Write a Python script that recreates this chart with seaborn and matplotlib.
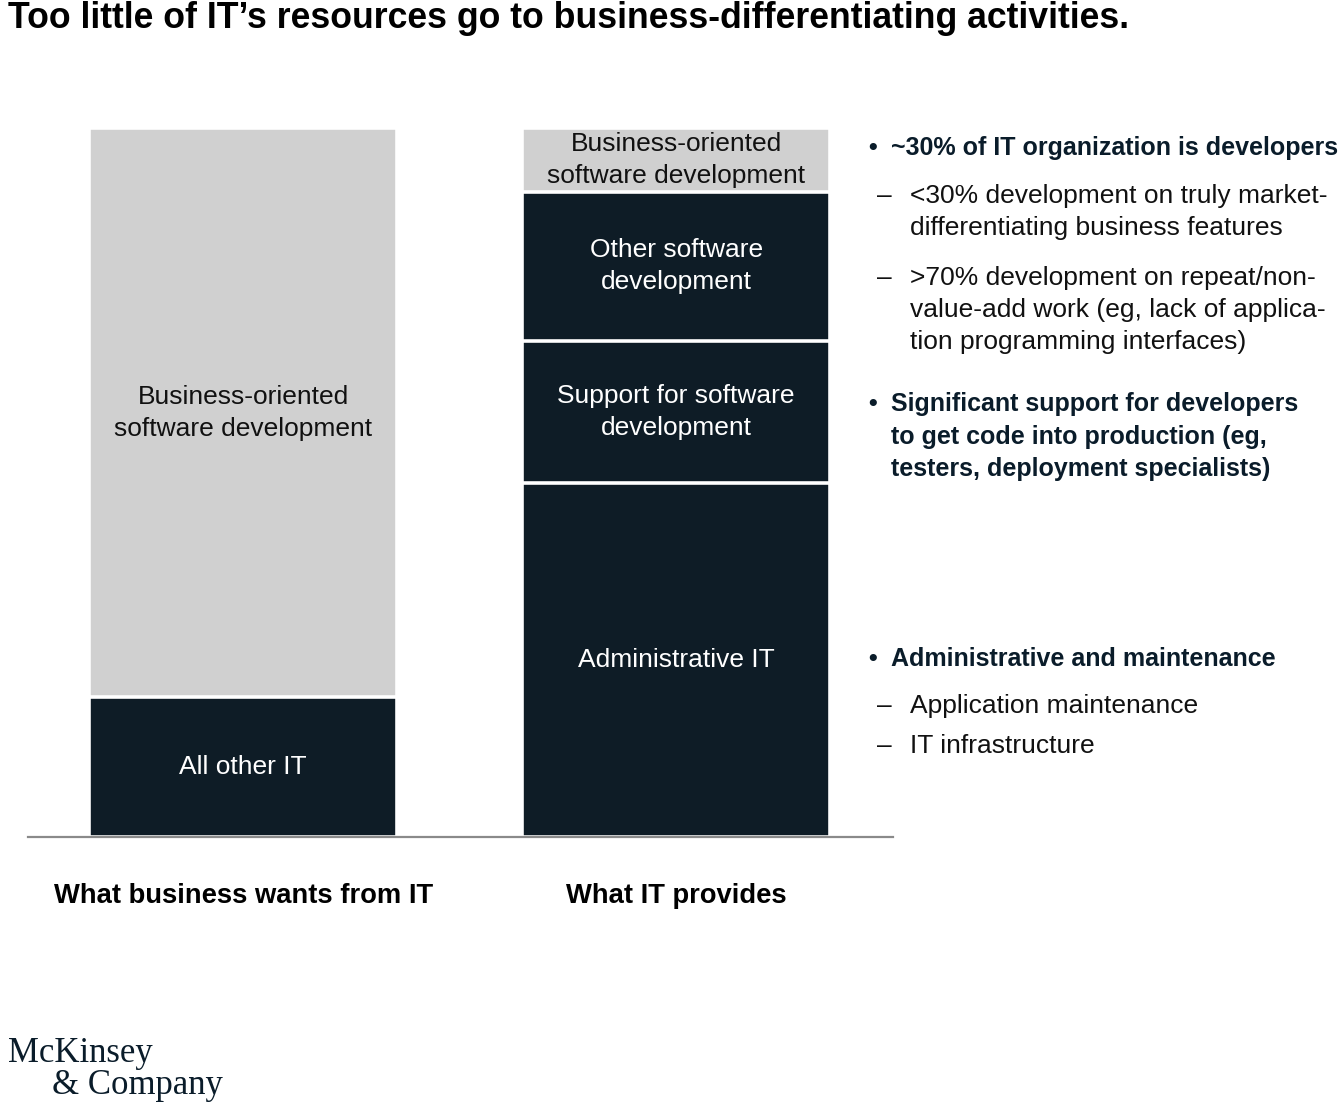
import numpy as np
import pandas as pd
import seaborn as sns
import matplotlib.pyplot as plt

# data (share of IT resources, %)
groups = ["What business wants from IT", "What IT provides"]
left_labels = ["All other IT", "Business-oriented\nsoftware development"]
left_values = [19.7, 80.3]
right_labels = ["Administrative IT", "Support for software\ndevelopment",
                "Other software\ndevelopment", "Business-oriented\nsoftware development"]
right_values = [50, 20, 21, 9]

bold_notes = ["~30% of IT organization is developers",
              "Significant support for developers\nto get code into production (eg,\ntesters, deployment specialists)",
              "Administrative and maintenance"]
dev_subnotes = ["<30% development on truly market-\ndifferentiating business features",
                ">70% development on repeat/non-\nvalue-add work (eg, lack of applica-\ntion programming interfaces)"]
admin_subnotes = ["Application maintenance", "IT infrastructure"]

NAVY = "#0a1c2a"
GRAY = "#d0d0d0"

sns.set_style("white")
plt.rcParams['font.family'] = ['Liberation Sans', 'DejaVu Sans']

W, H = 1344, 1111
fig = plt.figure(figsize=(W / 100, H / 100), dpi=100)
ax = fig.add_axes([28 / W, 1 - 837 / H, (893 - 28) / W, (837 - 128) / H])

# stacked bars drawn as cumulative layers, tallest first
stacks = [left_values, right_values]
depth = max(len(s) for s in stacks)
for layer in range(depth - 1, -1, -1):
    tops = [sum(s[:layer + 1]) if layer < len(s) else 0 for s in stacks]
    is_top = [layer == len(s) - 1 for s in stacks]
    colors = [GRAY if t else NAVY for t in is_top]
    df = pd.DataFrame({"group": groups, "top": tops})
    sns.barplot(data=df, x="group", y="top", hue="group", palette=colors,
                width=0.71, edgecolor="white", linewidth=2.6, legend=False, ax=ax,
                order=groups, hue_order=groups)

# segment labels
for xi, (vals, labs) in enumerate([(left_values, left_labels), (right_values, right_labels)]):
    cum = np.cumsum([0] + vals)
    for i, (v, lab) in enumerate(zip(vals, labs)):
        top_seg = i == len(vals) - 1
        ax.text(xi, cum[i] + v / 2, lab, ha="center", va="center",
                fontsize=19, color="#111111" if top_seg else "white", linespacing=1.43)

ax.set_xlim(-0.497, 1.501)
ax.set_ylim(0, 100)
ax.set_ylabel("")
ax.set_xlabel("")
ax.set_yticks([])
sns.despine(ax=ax, left=True)
ax.spines["bottom"].set_color("#8a8a8a")
ax.spines["bottom"].set_linewidth(1.6)
ax.tick_params(axis="x", length=0, pad=33)
ax.set_xticks(range(len(groups)))
ax.set_xticklabels(groups, fontsize=19.7, fontweight="bold", color="black")

# title
fig.text(8 / W, 1 - 19 / H, "Too little of IT\u2019s resources go to business-differentiating activities.",
         fontsize=25.7, fontweight="bold", ha="left", va="center", color="black")

# notes on the right
def note(y_px, text, bold=False):
    fx_mark, fx_text = (868, 891) if bold else (877, 910)
    mark = "\u2022" if bold else "\u2013"
    color = NAVY if bold else "#111111"
    size = 18 if bold else 19
    weight = "bold" if bold else "normal"
    fig.text(fx_mark / W, 1 - y_px / H, mark, fontsize=size, color=color,
             va="top", fontweight=weight)
    fig.text(fx_text / W, 1 - y_px / H, text, fontsize=size, color=color, va="top",
             fontweight=weight, linespacing=1.46 if bold else 1.43)

note(136, bold_notes[0], True)
note(184, dev_subnotes[0])
note(266, dev_subnotes[1])
note(392, bold_notes[1], True)
note(647, bold_notes[2], True)
note(694, admin_subnotes[0])
note(734, admin_subnotes[1])

# logo
fig.text(8 / W, 1 - 1053 / H, "McKinsey", family=["Liberation Serif", "DejaVu Serif"],
         fontsize=25, color=NAVY, va="center", ha="left")
fig.text(52 / W, 1 - 1086 / H, "& Company", family=["Liberation Serif", "DejaVu Serif"],
         fontsize=25, color=NAVY, va="center", ha="left")

fig.savefig("out.png", dpi=100, facecolor="white")
